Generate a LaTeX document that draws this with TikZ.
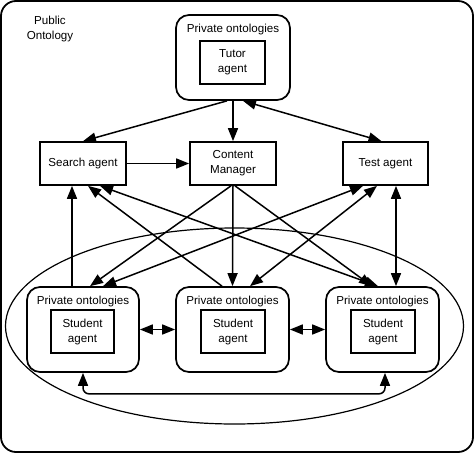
\documentclass[tikz,border=0pt]{standalone}
\usepackage{fontspec}
\setmainfont{Liberation Sans}
\usetikzlibrary{arrows.meta}
\begin{document}
\begin{tikzpicture}[x=1pt,y=-1pt,
  txt/.style={font=\fontsize{11.6}{15}\selectfont, align=center, inner sep=0pt},
  agentbox/.style={draw, line width=1.7pt, fill=white, minimum width=#1, minimum height=43pt, inner sep=0pt, txt},
  ontobox/.style={draw, line width=1.7pt, fill=white, rounded corners=13pt, minimum width=#1, minimum height=85pt, inner sep=0pt},
  tip/.tip={Triangle[length=13pt 0 0,width=10pt 0 0]},
  arr/.style={line width=1.5pt, -tip},
  darr/.style={line width=1.5pt, tip-tip}
]
\useasboundingbox (0,0) rectangle (474,453);
% outer frame
\draw[line width=1.8pt, rounded corners=15pt] (1,1) rectangle (473,452);
\node[txt] (pub) at (50,29) {Public\\Ontology};
% ellipse
\draw[line width=1.2pt] (234.5,326) ellipse [x radius=229, y radius=98];

% tutor
\node[ontobox=114pt] (tut) at (233,57.5) {};
\node[txt] (tpo) at (233,29) {Private ontologies};
\node[agentbox=65pt] (tutor) at (232.5,62.5) {Tutor\\agent};

% middle row
\node[agentbox=86pt] (search) at (83,163.5) {Search agent};
\node[agentbox=86pt] (cm) at (233,163.5) {Content\\Manager};
\node[agentbox=85pt] (test) at (385.5,163.5) {Test agent};

% students
\node[ontobox=112pt] (ls) at (83,329.5) {};
\node[ontobox=113pt] (ms) at (232.5,329.5) {};
\node[ontobox=113pt] (rs) at (382.5,329.5) {};
\node[txt] (lpo) at (83,301) {Private ontologies};
\node[txt] (mpo) at (232.5,301) {Private ontologies};
\node[txt] (rpo) at (382.5,301) {Private ontologies};
\node[agentbox=63pt] (lsa) at (82.5,331.5) {Student\\agent};
\node[agentbox=64pt] (msa) at (233,331.5) {Student\\agent};
\node[agentbox=64pt] (rsa) at (383,331.5) {Student\\agent};

% tutor connectors
\draw[arr] ([xshift=-6pt]tut.south) -- (search.north);
\draw[arr] (tut.south) -- (cm.north);
\draw[darr] ([xshift=10pt]tut.south) -- ([xshift=-4pt]test.north);
\draw[arr] (search.east) -- (cm.west);

% student to search
\draw[arr] ([xshift=-11pt]ls.north) -- ([xshift=-11pt]search.south);
\draw[arr] ([xshift=-10.5pt]ms.north) -- ([xshift=5pt]search.south);
\draw[darr] ([xshift=-4.5pt]rs.north) -- ([xshift=17pt]search.south);

% content manager to students
\draw[arr] ([xshift=-2pt]cm.south) -- ([xshift=7pt]ls.north);
\draw[arr] (cm.south) -- (ms.north);
\draw[arr] ([xshift=2pt]cm.south) -- ([xshift=-10.5pt]rs.north);

% test agent and students
\draw[darr] ([xshift=-22.5pt]test.south) -- ([xshift=20pt]ls.north);
\draw[darr] ([xshift=-8.5pt]test.south) -- ([xshift=17.5pt]ms.north);
\draw[darr] ([xshift=10.5pt]test.south) -- ([xshift=13.5pt]rs.north);

% between students
\draw[darr] (ls.east) -- (ms.west);
\draw[darr] (ms.east) -- (rs.west);
\draw[darr, rounded corners=6pt] (ls.south) -- ++(0,21) -| ([xshift=2.5pt]rs.south);
\end{tikzpicture}
\end{document}
